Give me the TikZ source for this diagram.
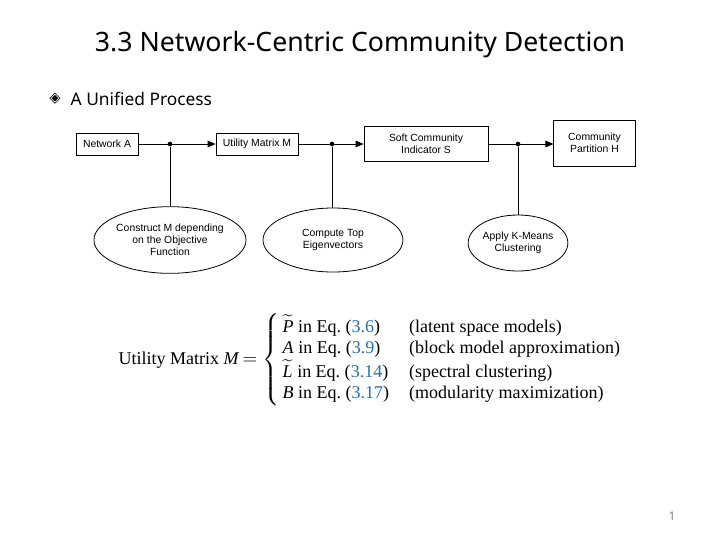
\documentclass[tikz,border=0pt]{standalone}
\usepackage{amsmath}
\usepackage{fontspec}
\setmainfont{Liberation Serif}
\newfontfamily\diag{Liberation Sans}
\newfontfamily\slide{Noto Sans}
\newfontfamily\symf{DejaVu Sans}
\usetikzlibrary{shapes.geometric,arrows.meta}
\definecolor{eqblue}{RGB}{40,110,170}
\begin{document}
\begin{tikzpicture}[x=0.75pt,y=-0.75pt,
  box/.style={draw,line width=0.6pt,inner sep=0pt,align=center,font=\diag\fontsize{7.8}{9}\selectfont},
  ell/.style={draw,ellipse,line width=0.6pt,inner sep=0pt,align=center,font=\diag\fontsize{7.8}{9}\selectfont},
  conn/.style={line width=0.6pt,-{Triangle[length=6pt,width=5pt]}},
  dotc/.style={circle,fill,inner sep=0pt,minimum size=3.5pt}]
\useasboundingbox (0,0) rectangle (720,540);
\node[font=\slide\fontsize{20}{24}\selectfont] (title) at (360,45) {3.3 Network-Centric Community Detection};
\node[font=\symf\fontsize{11}{13}\selectfont] (bul) at (55,99) {◈};
\node[anchor=west,font=\slide\fontsize{13}{15}\selectfont] (sub) at (66,99) {A Unified Process};
\node[box,minimum width=46.5pt,minimum height=16.5pt] (na) at (107,144) {Network A};
\node[box,minimum width=61.5pt,minimum height=16.5pt] (um) at (257,144) {Utility Matrix M};
\node[box,minimum width=93pt,minimum height=26pt] (sc) at (426,144) {Soft Community\\Indicator S};
\node[box,minimum width=61pt,minimum height=34.5pt] (cp) at (594.5,143) {Community\\Partition H};
\node[dotc] (d1) at (170,144) {};
\node[dotc] (d2) at (332,144) {};
\node[dotc] (d3) at (518,144) {};
\node[ell,minimum width=102pt,minimum height=50pt] (e1) at (170,240) {Construct M depending\\on the Objective\\Function};
\node[ell,minimum width=105pt,minimum height=48pt] (e2) at (333,240) {Compute Top\\Eigenvectors};
\node[ell,minimum width=69pt,minimum height=42pt] (e3) at (518,243) {Apply K-Means\\Clustering};
\draw[conn] (na.east) -- (um.west);
\draw[conn] (um.east) -- (sc.west);
\draw[conn] (sc.east) -- (cp.west |- sc.east);
\draw[line width=0.6pt] (d1) -- (e1.north);
\draw[line width=0.6pt] (d2) -- (d2 |- e2.north);
\draw[line width=0.6pt] (d3) -- (e3.north);
\node[anchor=west,font=\fontsize{13.5}{16}\selectfont] (eq) at (114,360) {Utility Matrix \textit{M}\,$=\left\{\,\begin{tabular}{@{}l@{\hspace{1.1em}}l@{}}
$\widetilde{\textit{P}}$ in Eq.~(\textcolor{eqblue}{3.6}) & (latent space models)\\
\textit{A} in Eq.~(\textcolor{eqblue}{3.9}) & (block model approximation)\\
$\widetilde{\textit{L}}$ in Eq.~(\textcolor{eqblue}{3.14}) & (spectral clustering)\\
\textit{B} in Eq.~(\textcolor{eqblue}{3.17}) & (modularity maximization)
\end{tabular}\right.$};
\node[font=\slide\fontsize{9}{11}\selectfont,text=gray] (pg) at (672,516) {1};
\end{tikzpicture}
\end{document}
